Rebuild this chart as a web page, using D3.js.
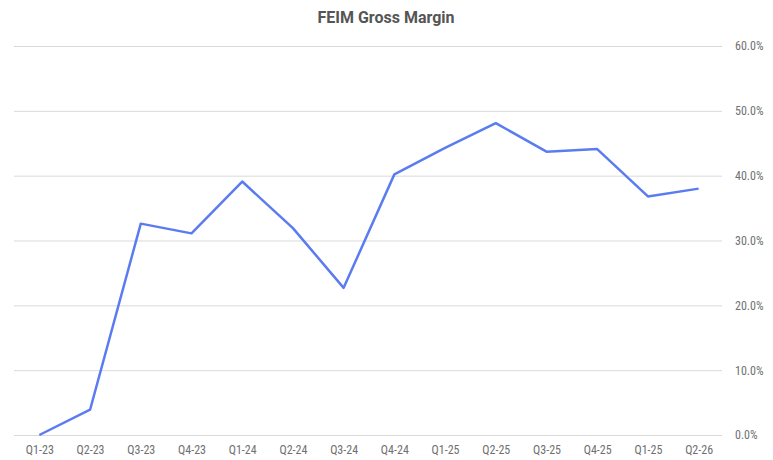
<!DOCTYPE html>
<html>
<head>
<meta charset="utf-8">
<script src="https://cdn.jsdelivr.net/npm/d3@7"></script>
<style>
  body { margin: 0; background: #fff; }
</style>
</head>
<body>
<div id="chart"></div>
<script>
var quarters = ["Q1-23", "Q2-23", "Q3-23", "Q4-23", "Q1-24", "Q2-24", "Q3-24",
                "Q4-24", "Q1-25", "Q2-25", "Q3-25", "Q4-25", "Q1-25 ", "Q2-26"]
var grossMargin = [0.0, 3.9, 32.6, 31.1, 39.1, 31.9, 22.7,
                   40.2, 44.3, 48.1, 43.7, 44.1, 36.8, 38.0]
var yTicks = [0, 10, 20, 30, 40, 50, 60]

var width = 773
var height = 460
var margin = { top: 46, right: 51, bottom: 25, left: 14 }

var svg = d3.select("#chart")
    .append("svg")
    .attr("width", width)
    .attr("height", height)

svg.append("text")
    .attr("x", 386)
    .attr("y", 23)
    .attr("text-anchor", "middle")
    .style("font-family", "Roboto, 'Open Sans', sans-serif")
    .style("font-size", "16px")
    .style("font-weight", "bold")
    .style("fill", "#555")
    .text("FEIM Gross Margin")

var x = d3.scalePoint()
    .domain(quarters)
    .range([margin.left, width - margin.right + 2])
    .padding(0.5)

var y = d3.scaleLinear()
    .domain([0, 60])
    .range([height - margin.bottom, margin.top])

// gridlines + right-hand labels
var yAxis = svg.append("g")
    .attr("transform", `translate(${width - margin.right}, 0)`)
    .call(d3.axisRight(y)
        .tickValues(yTicks)
        .tickSize(-(width - margin.right - margin.left))
        .tickPadding(13)
        .tickFormat(d => d.toFixed(1) + "%"))

yAxis.select(".domain").remove()
yAxis.selectAll(".tick line").attr("stroke", "#d9d9d9")
yAxis.selectAll(".tick text")
    .style("font-family", "'Liberation Sans Narrow', 'Roboto Condensed', sans-serif")
    .style("font-size", "12px")
    .style("fill", "#707070")

var xAxis = svg.append("g")
    .attr("transform", `translate(0, ${height - margin.bottom})`)
    .call(d3.axisBottom(x).tickSize(0).tickPadding(10))

xAxis.select(".domain").remove()
xAxis.selectAll(".tick text")
    .style("font-family", "'Liberation Sans Narrow', 'Roboto Condensed', sans-serif")
    .style("font-size", "12px")
    .style("fill", "#707070")

var line = d3.line()
    .x((d, i) => x(quarters[i]))
    .y(d => y(d))

svg.append("path")
    .datum(grossMargin)
    .attr("d", line)
    .attr("fill", "none")
    .attr("stroke", "#5b7cf0")
    .attr("stroke-width", 2.5)
    .attr("stroke-linejoin", "round")
</script>
</body>
</html>
